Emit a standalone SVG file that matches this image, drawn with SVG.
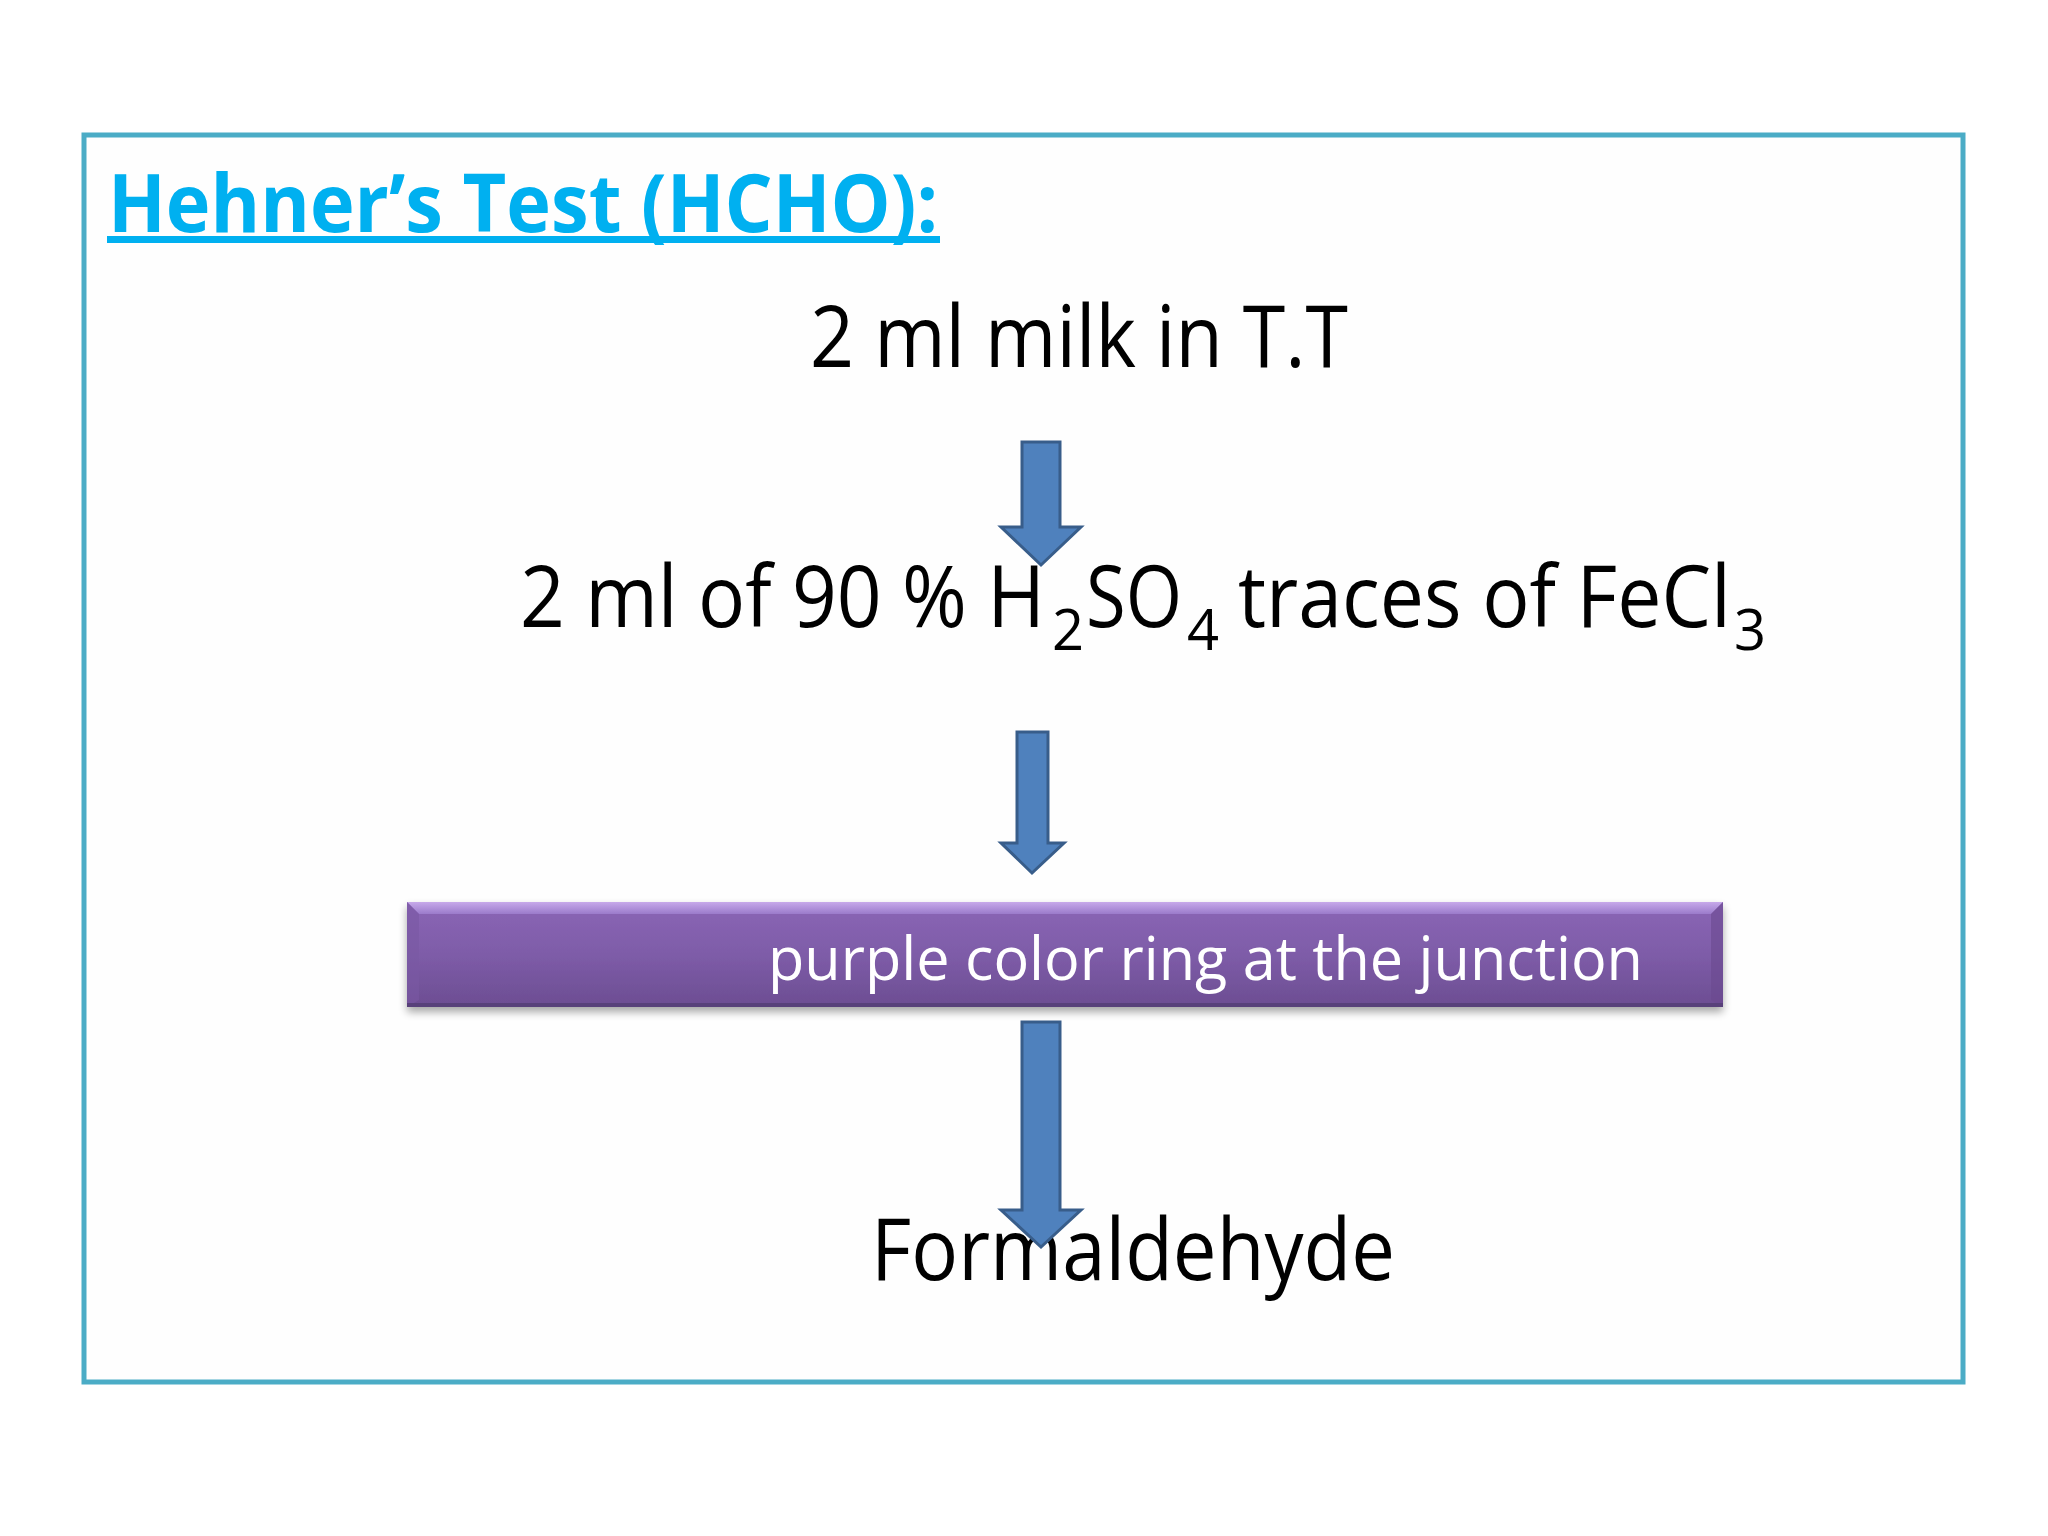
<svg xmlns="http://www.w3.org/2000/svg" width="2048" height="1536" viewBox="0 0 2048 1536">
  <style>
    .body { font-family: "Open Sans", "Liberation Sans", sans-serif; fill: #000000; }
    .title { font-family: "Open Sans", "Liberation Sans", sans-serif; font-weight: bold; fill: #00B0F0; }
    .barText { font-family: "Open Sans", "Liberation Sans", sans-serif; fill: #FFFFFF; }
    .arrow { fill: #4F81BD; stroke: #385D8A; stroke-width: 3; stroke-linejoin: miter; }
  </style>
  <defs>
    <linearGradient id="purpleGrad" x1="0" y1="0" x2="0" y2="1">
      <stop offset="0" stop-color="#8B66B6"/>
      <stop offset="0.5" stop-color="#7E5CA8"/>
      <stop offset="1" stop-color="#6C4D92"/>
    </linearGradient>
    <linearGradient id="bevelGrad" x1="0" y1="0" x2="0" y2="1">
      <stop offset="0" stop-color="#C7A9EA"/>
      <stop offset="1" stop-color="#9B7BCB"/>
    </linearGradient>
    <filter id="shadow" x="-5%" y="-20%" width="110%" height="150%">
      <feGaussianBlur in="SourceAlpha" stdDeviation="4"/>
      <feOffset dx="0" dy="5" result="b"/>
      <feComponentTransfer><feFuncA type="linear" slope="0.35"/></feComponentTransfer>
      <feMerge><feMergeNode/><feMergeNode in="SourceGraphic"/></feMerge>
    </filter>
  </defs>

  <rect x="0" y="0" width="2048" height="1536" fill="#FFFFFF"/>

  <g id="frame">
    <rect x="84" y="135" width="1879" height="1247" fill="#FEFEFE" stroke="#4BACC6" stroke-width="5"/>
  </g>

  <g id="title">
    <text class="title" x="108" y="232" font-size="80" textLength="830" lengthAdjust="spacingAndGlyphs">Hehner’s Test (HCHO):</text>
    <rect x="107" y="236" width="833" height="7" fill="#00B0F0"/>
  </g>

  <g id="node-milk">
    <text class="body" x="810" y="367" font-size="86" textLength="538" lengthAdjust="spacingAndGlyphs">2 ml milk in T.T</text>
  </g>

  <g id="node-acid">
    <text class="body" font-size="86">
      <tspan x="520" y="627" textLength="525" lengthAdjust="spacingAndGlyphs">2 ml of 90 % H</tspan><tspan x="1052" y="650" font-size="56">2</tspan><tspan x="1086" y="627" textLength="96" lengthAdjust="spacingAndGlyphs">SO</tspan><tspan x="1187" y="650" font-size="56">4</tspan><tspan x="1238" y="627" textLength="493" lengthAdjust="spacingAndGlyphs">traces of FeCl</tspan><tspan x="1734" y="650" font-size="56">3</tspan>
    </text>
  </g>

  <g id="node-ring">
    <g filter="url(#shadow)">
      <rect x="407" y="902" width="1316" height="105" fill="url(#purpleGrad)"/>
    </g>
    <polygon points="407,902 1723,902 1711,914 419,914" fill="url(#bevelGrad)"/>
    <polygon points="407,902 419,914 419,1000 407,1007" fill="#7A59A3" opacity="0.6"/>
    <polygon points="1723,902 1711,914 1711,1000 1723,1007" fill="#6A4A90" opacity="0.6"/>
    <rect x="407" y="1003" width="1316" height="4" fill="#58407A"/>
    <text class="barText" x="768" y="980" font-size="60" textLength="875" lengthAdjust="spacingAndGlyphs">purple color ring at the junction</text>
  </g>

  <g id="node-formaldehyde">
    <text class="body" x="871" y="1280" font-size="86" textLength="524" lengthAdjust="spacingAndGlyphs">Formaldehyde</text>
  </g>

  <g id="connectors">
    <path class="arrow" d="M1022,442 H1060 V527 H1081 L1041,565 L1001,527 H1022 Z"/>
    <path class="arrow" d="M1017,732 H1048 V843 H1064 L1032,873 L1001,843 H1017 Z"/>
    <path class="arrow" d="M1022,1022 H1060 V1210 H1081 L1041,1247 L1001,1210 H1022 Z"/>
  </g>
</svg>
